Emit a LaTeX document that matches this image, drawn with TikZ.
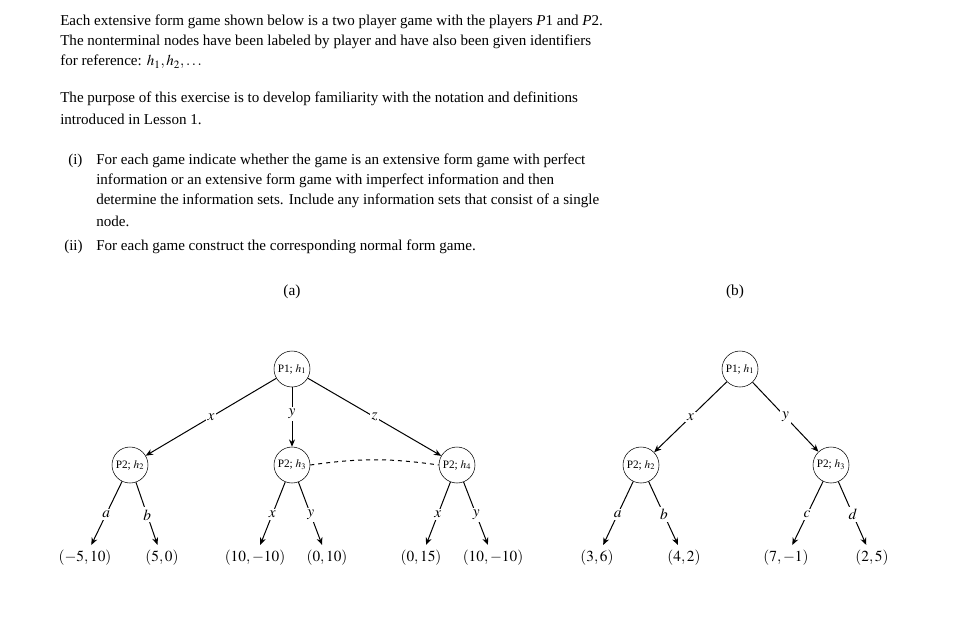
\documentclass[tikz,border=0pt]{standalone}
\usepackage{mathptmx}
\usepackage{fontspec}
\setmainfont{Liberation Serif}
\usetikzlibrary{arrows.meta}
\begin{document}
\begin{tikzpicture}[x=0.75pt,y=-0.75pt,
  txt/.style={anchor=west,inner sep=0pt,font=\fontsize{11.3}{14}\selectfont},
  pnode/.style={circle,draw,minimum size=27pt,inner sep=0pt,font=\fontsize{8.5}{9}\selectfont},
  leaf/.style={inner sep=2pt,font=\fontsize{11.5}{14}\selectfont},
  lbl/.style={fill=white,inner sep=1.5pt,font=\fontsize{11.5}{12}\selectfont},
  edge/.style={draw,line width=0.75pt,-{Stealth[length=5.5pt,width=4.5pt]}},
  cedge/.style={edge,shorten >=2pt}]
\useasboundingbox (0,0) rectangle (963,643);
\node[txt] (t1) at (60,22) {Each extensive form game shown below is a two player game with the players \textit{P}1 and \textit{P}2.};
\node[txt] (t2) at (60,42) {The nonterminal nodes have been labeled by player and have also been given identifiers};
\node[txt] (t3) at (60,62) {for reference: $h_1,h_2,\ldots$};
\node[txt] (t4) at (60,99) {The purpose of this exercise is to develop familiarity with the notation and definitions};
\node[txt] (t5) at (60,119) {introduced in Lesson 1.};
\node[txt] (i1) at (68,161) {(i)};
\node[txt] (t6) at (96,161) {For each game indicate whether the game is an extensive form game with perfect};
\node[txt] (t7) at (96,181) {information or an extensive form game with imperfect information and then};
\node[txt] (t8) at (96,201) {determine the information sets. Include any information sets that consist of a single};
\node[txt] (t9) at (96,221) {node.};
\node[txt] (i2) at (64,247) {(ii)};
\node[txt] (t10) at (96,247) {For each game construct the corresponding normal form game.};
\node[leaf] (capa) at (292,292) {(a)};
\node[leaf] (capb) at (735,292) {(b)};
% tree a
\node[pnode] (a1) at (292,369) {P1; $h_1$};
\node[pnode] (a2) at (130,465) {P2; $h_2$};
\node[pnode] (a3) at (292,465) {P2; $h_3$};
\node[pnode] (a4) at (457,465) {P2; $h_4$};
\node[leaf] (l1) at (85,558) {$(-5,10)$};
\node[leaf] (l2) at (162,558) {$(5,0)$};
\node[leaf] (l3) at (255,558) {$(10,-10)$};
\node[leaf] (l4) at (327,558) {$(0,10)$};
\node[leaf] (l5) at (421,558) {$(0,15)$};
\node[leaf] (l6) at (493,558) {$(10,-10)$};
\path[edge] (a1) -- node[lbl]{$x$} (a2);
\path[edge] (a1) -- node[lbl,pos=0.45]{$y$} (a3);
\path[edge] (a1) -- node[lbl]{$z$} (a4);
\path[cedge] (a2) -- node[lbl]{$a$} (l1);
\path[cedge] (a2) -- node[lbl]{$b$} (l2);
\path[cedge] (a3) -- node[lbl]{$x$} (l3);
\path[cedge] (a3) -- node[lbl]{$y$} (l4);
\path[cedge] (a4) -- node[lbl]{$x$} (l5);
\path[cedge] (a4) -- node[lbl]{$y$} (l6);
\draw[dashed,line width=0.75pt] (a3.east) to[bend left=8] (a4.west);
% tree b
\node[pnode] (b1) at (740,369) {P1; $h_1$};
\node[pnode] (b2) at (641,465) {P2; $h_2$};
\node[pnode] (b3) at (831,465) {P2; $h_3$};
\node[leaf] (m1) at (597,558) {$(3,6)$};
\node[leaf] (m2) at (684,558) {$(4,2)$};
\node[leaf] (m3) at (786,558) {$(7,-1)$};
\node[leaf] (m4) at (872,558) {$(2,5)$};
\path[edge] (b1) -- node[lbl]{$x$} (b2);
\path[edge] (b1) -- node[lbl]{$y$} (b3);
\path[cedge] (b2) -- node[lbl]{$a$} (m1);
\path[cedge] (b2) -- node[lbl]{$b$} (m2);
\path[cedge] (b3) -- node[lbl]{$c$} (m3);
\path[cedge] (b3) -- node[lbl]{$d$} (m4);
\end{tikzpicture}
\end{document}
